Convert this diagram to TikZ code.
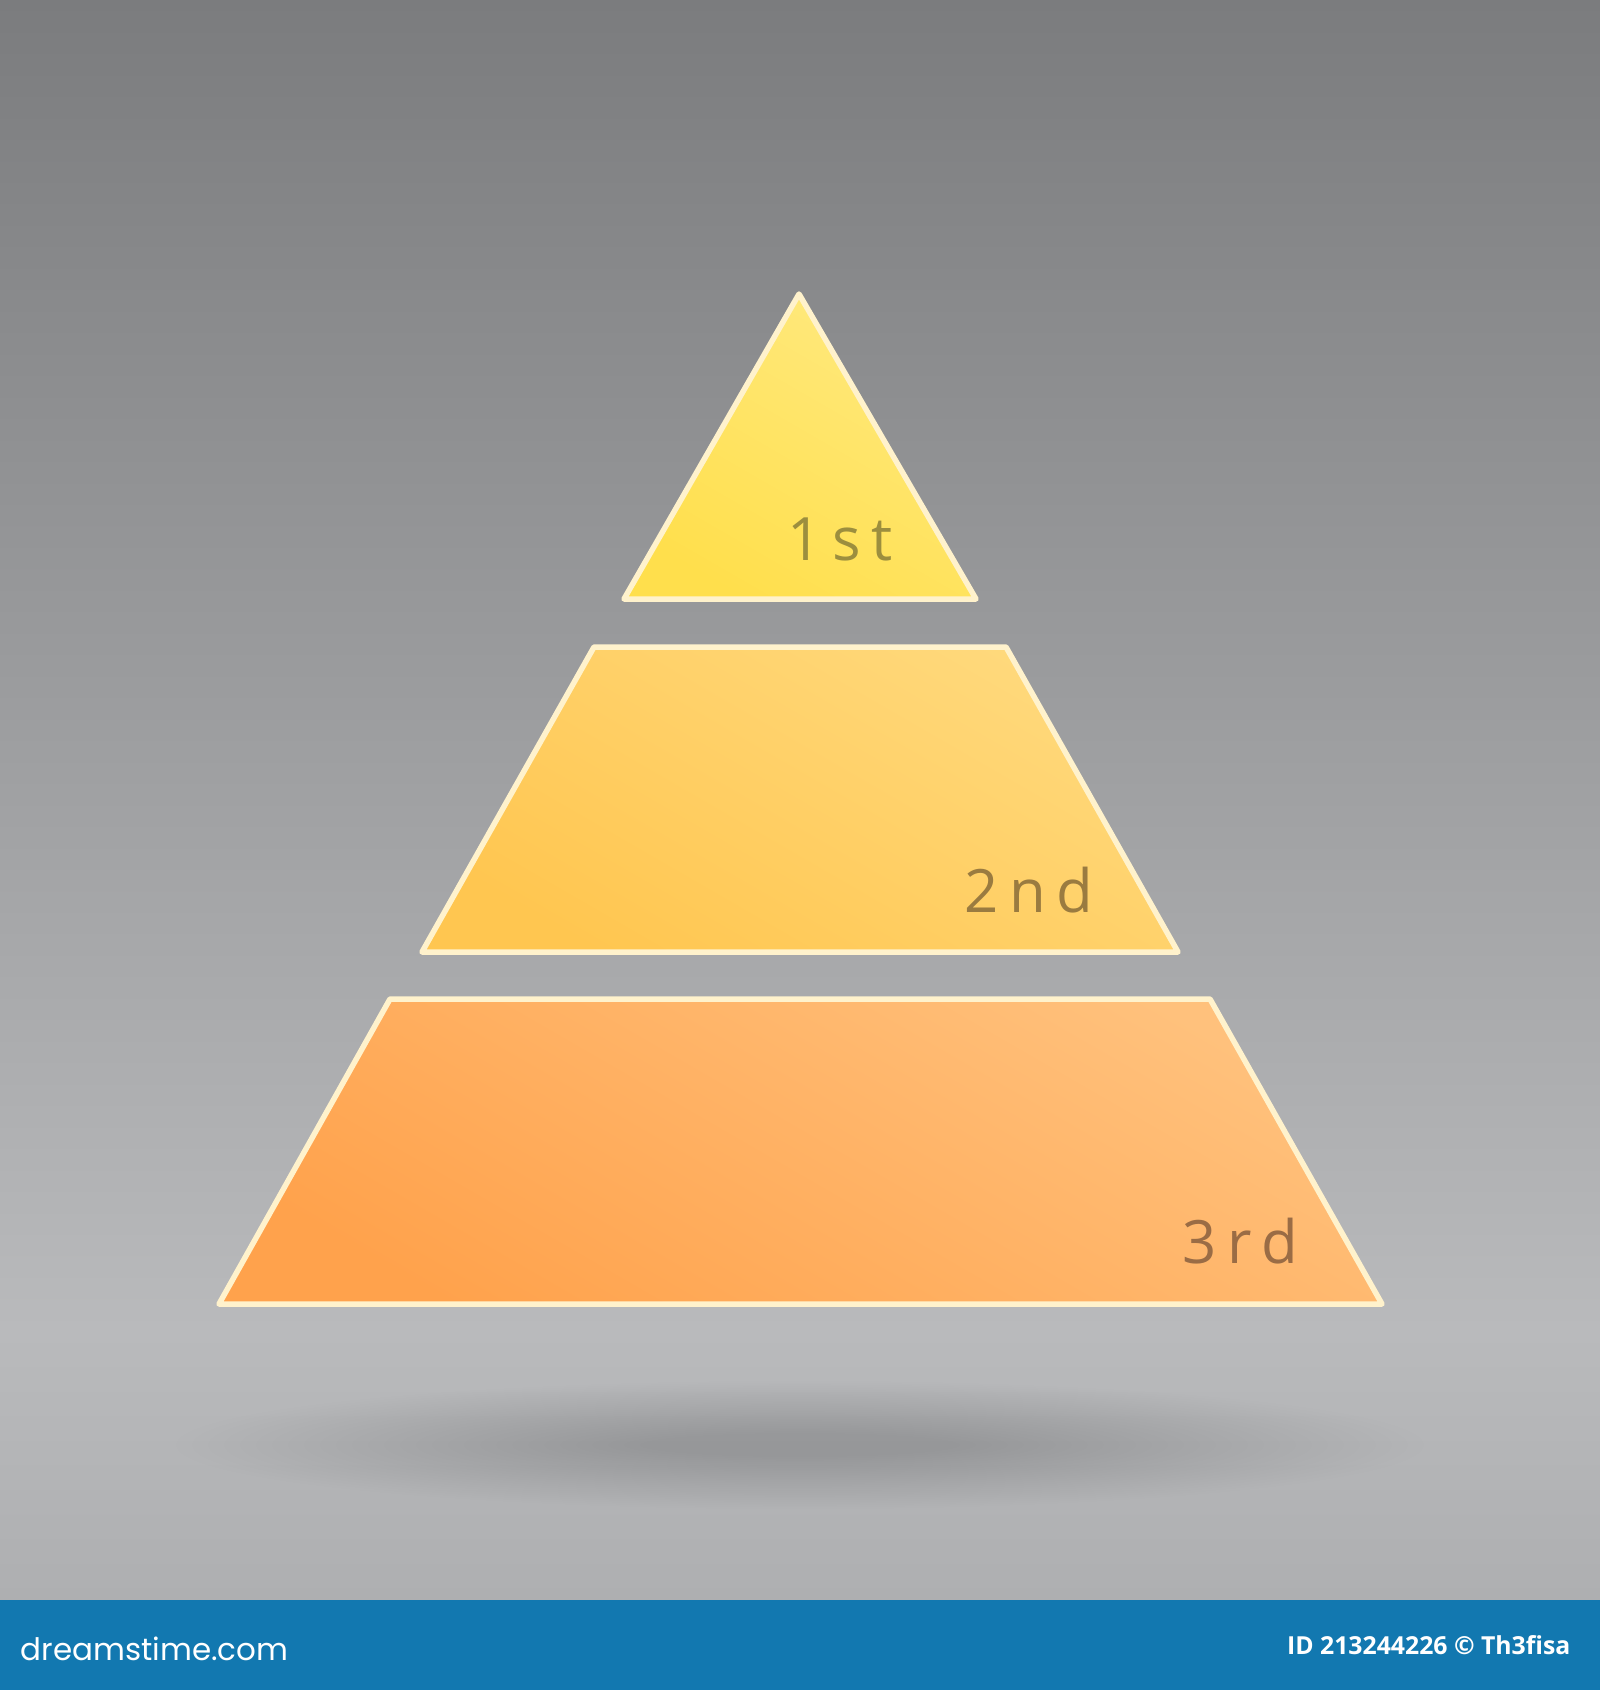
\documentclass[tikz,border=0pt]{standalone}
\usepackage{fontspec}
\setmainfont{Open Sans}
\newfontfamily\tierfont[LetterSpace=18]{Open Sans}
\newfontfamily\sitefont{Poppins}

\begin{document}
\begin{tikzpicture}[x=0.01cm, y=-0.01cm]
  % Define colors
  \definecolor{bgtop}{HTML}{7B7C7E}
  \definecolor{bglight}{HTML}{B9BABC}
  \definecolor{bgbottom}{HTML}{AEAFB1}
  \definecolor{tieredge}{HTML}{FFF2CC}
  \definecolor{firstlight}{HTML}{FFE97E}
  \definecolor{firstdark}{HTML}{FFDF4C}
  \definecolor{secondlight}{HTML}{FFD97C}
  \definecolor{seconddark}{HTML}{FFC650}
  \definecolor{thirdlight}{HTML}{FFC17C}
  \definecolor{thirddark}{HTML}{FFA24C}
  \definecolor{firsttext}{HTML}{9C8E3E}
  \definecolor{secondtext}{HTML}{9A7B40}
  \definecolor{thirdtext}{HTML}{9A6C45}
  \definecolor{barblue}{HTML}{1278B0}

  \tikzset{
    tier/.style={draw=tieredge, line width=0.055cm, line join=round},
    tierlabel/.style={font=\tierfont\fontsize{17}{20}\selectfont, inner sep=0pt}
  }

  % Background
  \useasboundingbox (0,0) rectangle (1600,1690);
  \shade[top color=bgtop, bottom color=bglight] (0,0) rectangle (1600,1331);
  \shade[top color=bglight, bottom color=bgbottom] (0,1330) rectangle (1600,1600);

  % Soft shadow under the pyramid
  \foreach \i in {1,...,30} {
    \fill[black, opacity=0.005] (800,1445) ellipse ({640-16*\i} and {66-1.8*\i});
  }

  % Tiers
  \draw[tier, top color=firstlight, bottom color=firstdark, shading angle=-30]
    (799,294) -- (976,599) -- (624,599) -- cycle;
  \draw[tier, top color=secondlight, bottom color=seconddark, shading angle=-30]
    (594,647) -- (1006,647) -- (1178,952) -- (422,952) -- cycle;
  \draw[tier, top color=thirdlight, bottom color=thirddark, shading angle=-30]
    (390,999) -- (1210,999) -- (1382,1304) -- (219,1304) -- cycle;

  % Labels
  \node[tierlabel, text=firsttext] (first) at (840,539) {1st};
  \node[tierlabel, text=secondtext] (second) at (1029,890) {2nd};
  \node[tierlabel, text=thirdtext] (third) at (1240,1241) {3rd};

  % Credit bar
  \fill[barblue] (0,1600) rectangle (1600,1690);
  \node[anchor=west, text=white, inner sep=0pt, font=\sitefont\fontsize{8.8}{11}\selectfont]
    (site) at (20,1649) {dreamstime.com};
  \node[anchor=east, text=white, inner sep=0pt, font=\bfseries\fontsize{7.05}{9}\selectfont]
    (credit) at (1571,1645) {ID 213244226 © Th3fisa};
\end{tikzpicture}
\end{document}
